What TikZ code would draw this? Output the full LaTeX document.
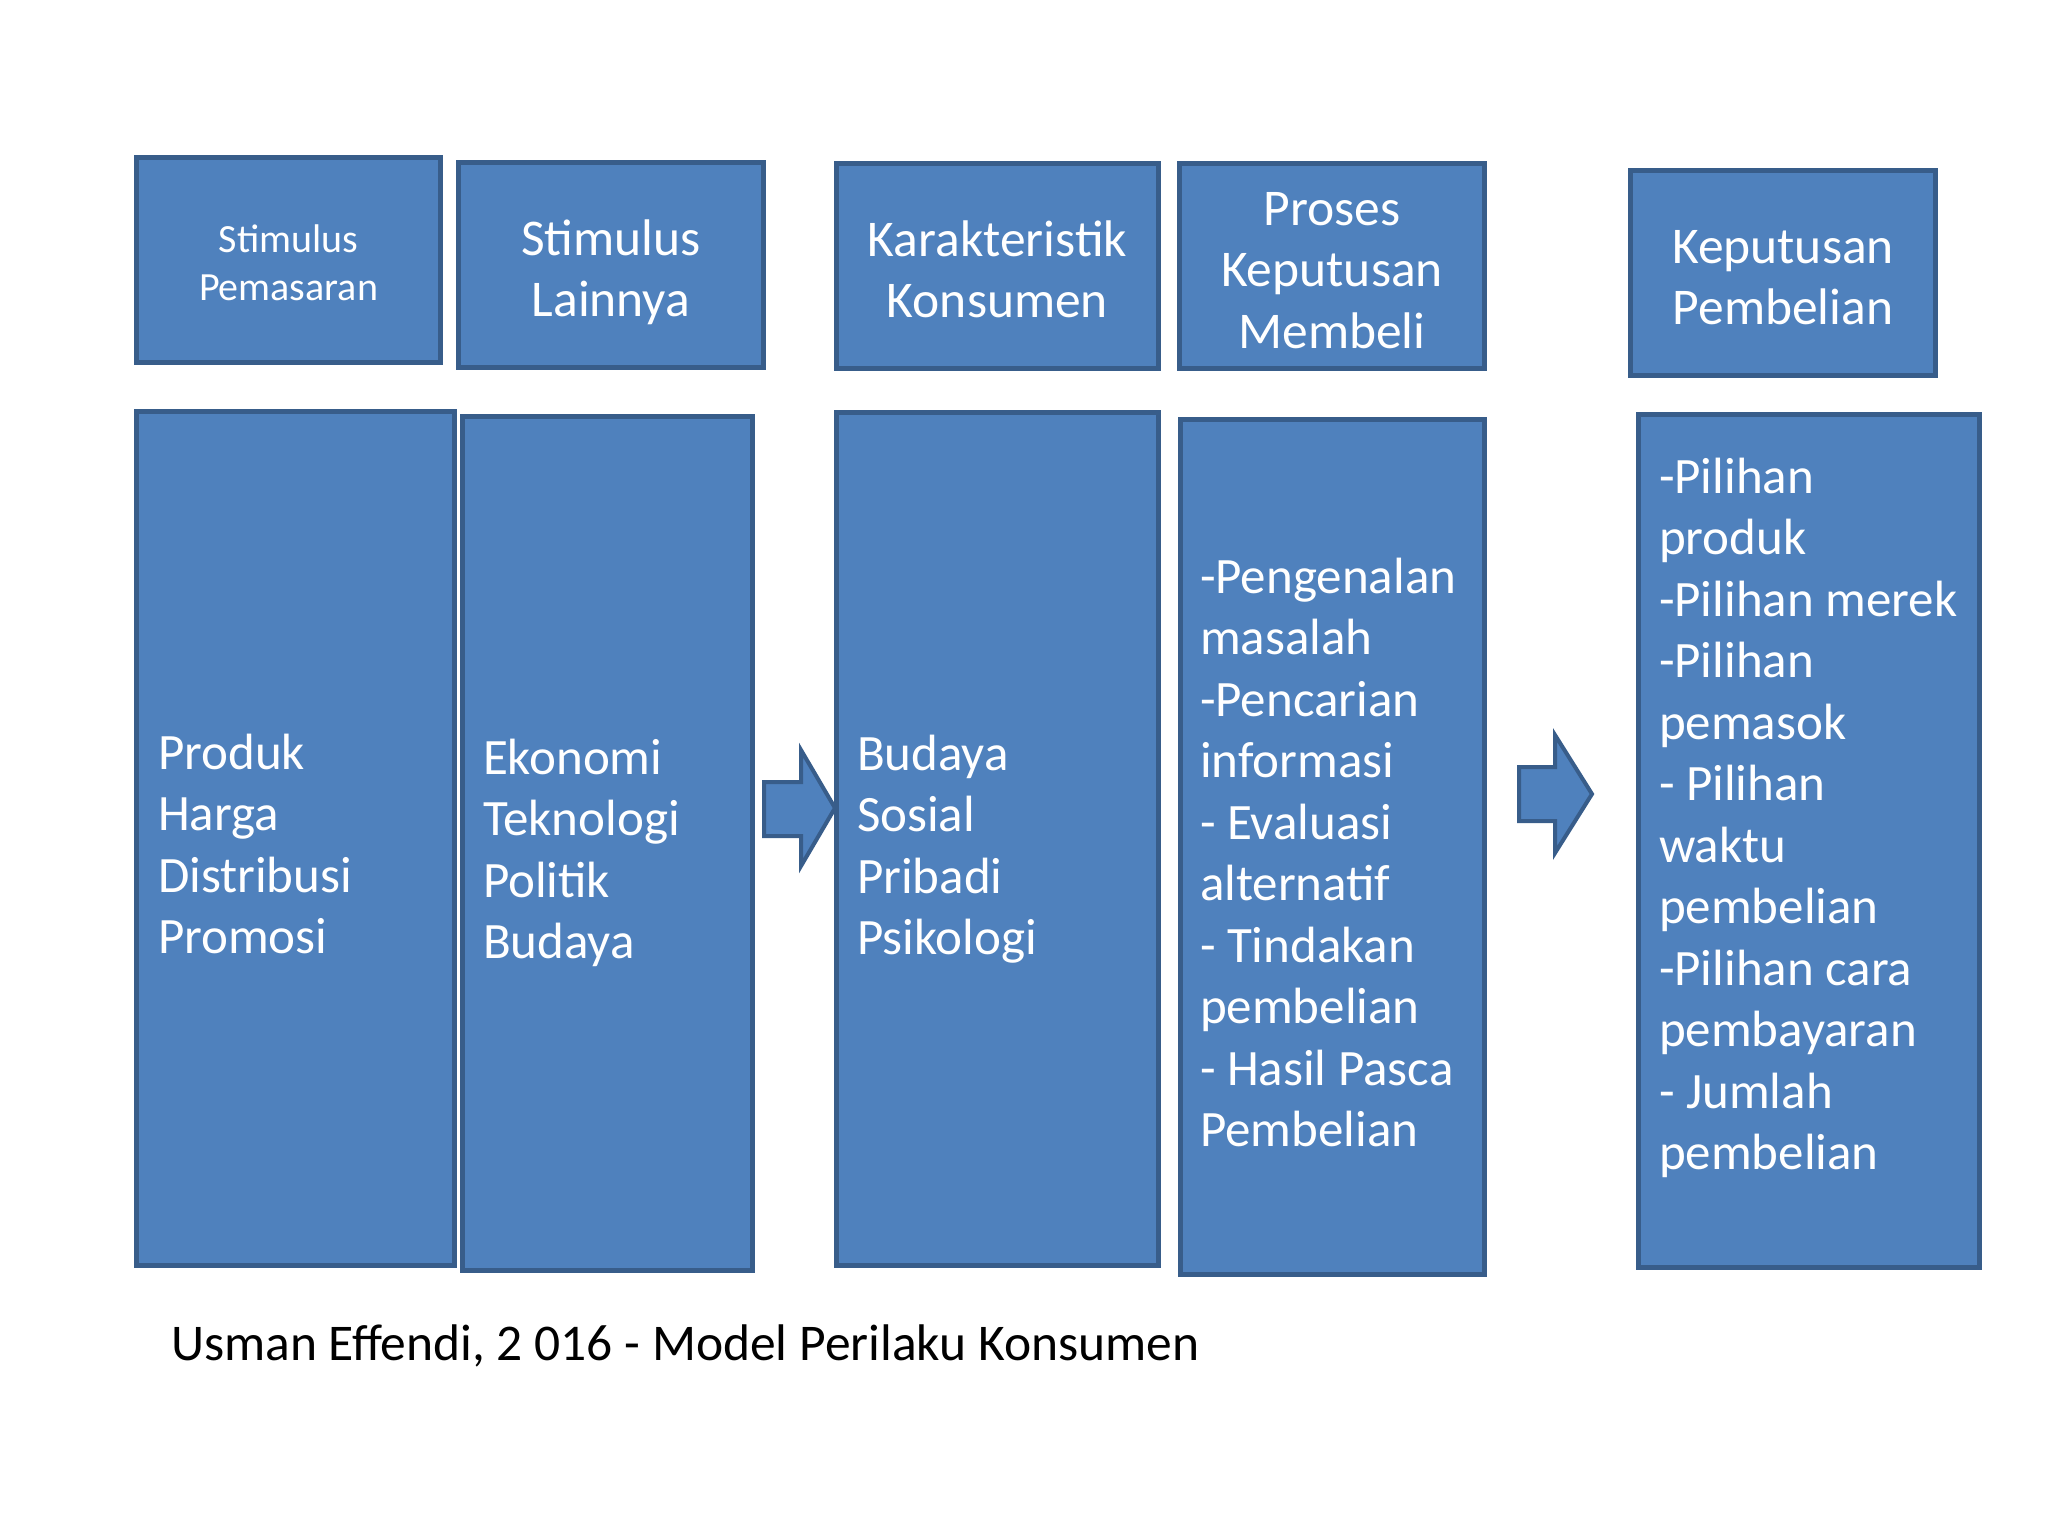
\documentclass[tikz,border=0pt]{standalone}
\usepackage{fontspec}
\setmainfont{Carlito}
\definecolor{boxfill}{HTML}{4F81BD}
\definecolor{boxline}{HTML}{385D8A}
\newcommand\lnstrut{\rule{0pt}{0.9em}}
\tikzset{
  blk/.style={draw=boxline, fill=boxfill, line width=5pt, rectangle, inner sep=0pt, outer sep=0pt, anchor=north west},
  ttl/.style={text=white, align=center, inner sep=0pt, outer sep=0pt, anchor=north},
  ttlbig/.style={ttl, font=\fontsize{51.5}{61.7}\selectfont},
  bdy/.style={text=white, align=left, inner sep=0pt, outer sep=0pt, anchor=north west, font=\fontsize{51}{61.5}\selectfont},
  blockarrow/.style={draw=boxline, fill=boxfill, line width=4pt, line join=miter},
}
\begin{document}
\begin{tikzpicture}[x=1pt,y=-1pt]
\useasboundingbox (0,0) rectangle (2048,1536);
% top boxes
\node[blk, minimum width=304pt, minimum height=205pt] (t1) at (136.5,157.5) {};
\node[blk, minimum width=305pt, minimum height=205pt] (t2) at (458.5,162.5) {};
\node[blk, minimum width=322pt, minimum height=205pt] (t3) at (836.5,163.5) {};
\node[blk, minimum width=305pt, minimum height=205pt] (t4) at (1179.5,163.5) {};
\node[blk, minimum width=305pt, minimum height=205pt] (t5) at (1630.5,170.5) {};
% bottom boxes
\node[blk, minimum width=318pt, minimum height=854pt] (b1) at (136.5,411.5) {};
\node[blk, minimum width=290pt, minimum height=854pt] (b2) at (462.5,416.5) {};
\node[blk, minimum width=322pt, minimum height=853pt] (b3) at (836.5,412.5) {};
\node[blk, minimum width=304pt, minimum height=855pt] (b4) at (1180.5,419.5) {};
\node[blk, minimum width=341pt, minimum height=853pt] (b5) at (1638.5,414.5) {};
% titles
\node[ttl, font=\fontsize{40}{48}\selectfont] (l1) at (288.5,216) {\lnstrut Stimulus\\Pemasaran};
\node[ttlbig] (l2) at (611,208.7) {\lnstrut Stimulus\\Lainnya};
\node[ttlbig] (l3) at (997.5,209.7) {\lnstrut Karakteristik\\Konsumen};
\node[ttlbig] (l4) at (1332,178.7) {\lnstrut Proses\\Keputusan\\Membeli};
\node[ttlbig] (l5) at (1783,216.7) {\lnstrut Keputusan\\Pembelian};
% bodies
\node[bdy] (x1) at (158,723.1) {\lnstrut Produk\\Harga\\Distribusi\\Promosi};
\node[bdy] (x2) at (483,728.1) {\lnstrut Ekonomi\\Teknologi\\Politik\\Budaya};
\node[bdy] (x3) at (857,724.1) {\lnstrut Budaya\\Sosial\\Pribadi\\Psikologi};
\node[bdy] (x4) at (1200,547.1) {\lnstrut -Pengenalan\\masalah\\-Pencarian\\informasi\\- Evaluasi\\alternatif\\- Tindakan\\pembelian\\- Hasil Pasca\\Pembelian};
\node[bdy] (x5) at (1659,447.1) {\lnstrut -Pilihan\\produk\\-Pilihan merek\\-Pilihan\\pemasok\\- Pilihan\\waktu\\pembelian\\-Pilihan cara\\pembayaran\\- Jumlah\\pembelian};
% block arrows
\draw[blockarrow] (764,782) -- (801,782) -- (801,750) -- (835,808) -- (801,866) -- (801,836) -- (764,836) -- cycle;
\draw[blockarrow] (1519,767) -- (1555,767) -- (1555,735) -- (1592,794) -- (1555,853) -- (1555,821) -- (1519,821) -- cycle;
% caption
\node[anchor=base west, inner sep=0pt, outer sep=0pt, font=\fontsize{51.5}{62}\selectfont] (cap) at (171,1360) {Usman Effendi, 2 016 - Model Perilaku Konsumen};
\end{tikzpicture}
\end{document}
